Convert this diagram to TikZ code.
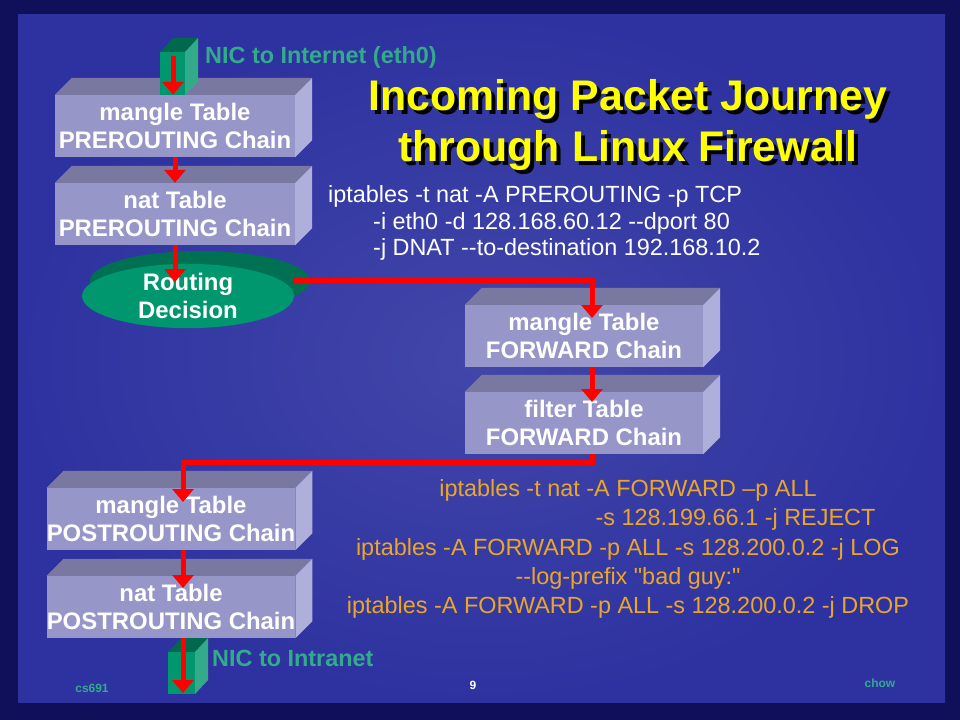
\documentclass[tikz,border=0pt]{standalone}
\usepackage{fontspec}
\setmainfont{Liberation Sans}
\newfontfamily\plainsans{Liberation Sans}
\usetikzlibrary{shapes.geometric,arrows.meta}
\definecolor{bgblue}{RGB}{45,50,160}
\definecolor{bgdark}{RGB}{15,15,90}
\definecolor{boxfront}{RGB}{150,150,200}
\definecolor{boxtop}{RGB}{120,120,160}
\definecolor{boxside}{RGB}{175,175,220}
\definecolor{nicgreen}{RGB}{0,150,110}
\definecolor{cmdorange}{RGB}{235,165,40}
\definecolor{titleyellow}{RGB}{255,255,0}
\tikzset{
  chainbox/.style={fill=boxfront, minimum height=62bp, text=white, font=\bfseries\fontsize{24}{28}\selectfont, align=center, inner sep=0pt},
  flow/.style={draw=red, line width=5bp, -{Triangle[length=13bp,width=21bp]}},
  cmd/.style={text=white, font=\plainsans\fontsize{23.5}{27}\selectfont, align=left, anchor=north west, inner sep=0pt},
}
\newcommand{\boxdepth}[1]{%
  \fill[boxtop] (#1.north west) -- ++(17bp,17bp) -| ([xshift=17bp,yshift=17bp]#1.north east) -- (#1.north east) -- cycle;
  \fill[boxside] (#1.north east) -- ++(17bp,17bp) -- ([xshift=17bp,yshift=17bp]#1.south east) -- (#1.south east) -- cycle;}
\begin{document}
\begin{tikzpicture}[x=1bp,y=1bp]
\useasboundingbox (0,0) rectangle (960,-720);
\fill[bgdark] (0,0) rectangle (960,-720);
\shade[inner color=bgblue!90!white, outer color=bgblue] (18,-15) rectangle (945,-702);

% title
\node[text=black, font=\bfseries\fontsize{43}{51}\selectfont, align=center] at (632,-129) {Incoming Packet Journey\\through Linux Firewall};
\node[text=titleyellow, font=\bfseries\fontsize{43}{51}\selectfont, align=center] (title) at (628,-125) {Incoming Packet Journey\\through Linux Firewall};

% chain boxes
\node[chainbox, minimum width=240bp] (manglepre) at (175,-126) {mangle Table\\PREROUTING Chain};
\node[chainbox, minimum width=240bp] (natpre) at (175,-214) {nat Table\\PREROUTING Chain};
\node[chainbox, minimum width=238bp] (manglefwd) at (584,-336) {mangle Table\\FORWARD Chain};
\node[chainbox, minimum width=238bp] (filterfwd) at (584,-423) {filter Table\\FORWARD Chain};
\node[chainbox, minimum width=248bp] (manglepost) at (171,-519) {mangle Table\\POSTROUTING Chain};
\node[chainbox, minimum width=248bp] (natpost) at (171,-607) {nat Table\\POSTROUTING Chain};
\foreach \b in {manglepre,natpre,manglefwd,filterfwd,manglepost,natpost} {\boxdepth{\b}}

% NICs
\fill[nicgreen!70!black] (160,-52) -- (173,-38) -- (198,-38) -- (185,-52) -- cycle;
\fill[nicgreen!80!white] (185,-52) -- (198,-38) -- (198,-82) -- (185,-95) -- cycle;
\node[fill=nicgreen, minimum width=25bp, minimum height=43bp, inner sep=0pt, anchor=north west] (nicin) at (160,-52) {};
\fill[nicgreen!70!black] (168,-652) -- (181,-638) -- (208,-638) -- (195,-652) -- cycle;
\fill[nicgreen!80!white] (195,-652) -- (208,-638) -- (208,-680) -- (195,-694) -- cycle;
\node[fill=nicgreen, minimum width=27bp, minimum height=42bp, inner sep=0pt, anchor=north west] (nicout) at (168,-652) {};
\node[text=nicgreen!80!white, font=\bfseries\fontsize{23.5}{26}\selectfont, anchor=west, inner sep=0pt] (nicinlabel) at (205,-57) {NIC to Internet (eth0)};
\node[text=nicgreen!80!white, font=\bfseries\fontsize{23.5}{26}\selectfont, anchor=west, inner sep=0pt] (nicoutlabel) at (212,-658) {NIC to Intranet};

% routing decision
\fill[nicgreen!75!black] (200,-281) ellipse (110bp and 30bp);
\node[ellipse, fill=nicgreen, minimum width=212bp, minimum height=58bp, text=white, font=\bfseries\fontsize{24}{28}\selectfont, align=center, inner sep=0pt] (routing) at (188,-296) {Routing\\Decision};

% flow
\draw[flow] (173,-56) -- (manglepre.north -| 173,0);
\draw[flow] (manglepre.south) -- (natpre.north);
\draw[flow] (natpre.south) -- (175,-282);
\draw[flow] (routing.east |- 0,-280) -- (592,-280) -- (592,-318);
\draw[flow] (manglefwd.south -| 592,0) -- (592,-402);
\draw[flow] (filterfwd.south -| 592,0) -- (592,-462) -- (183,-462) -- (183,-502);
\draw[flow] (manglepost.south -| 183,0) -- (183,-588);
\draw[flow] (natpost.south -| 183,0) -- (183,-693);

% commands
\node[cmd] (natrule) at (328,-185) {iptables -t nat -A PREROUTING -p TCP\\\hspace*{45bp}-i eth0 -d 128.168.60.12 --dport 80\\\hspace*{45bp}-j DNAT --to-destination 192.168.10.2};
\node[text=cmdorange, font=\plainsans\fontsize{23.5}{29.2}\selectfont, align=center, inner sep=0pt] (fwdrules) at (628,-549) {iptables -t nat -A FORWARD –p ALL\\\hspace*{215bp}-s 128.199.66.1 -j REJECT\\iptables -A FORWARD -p ALL -s 128.200.0.2 -j LOG\\--log-prefix "bad guy:"\\iptables -A FORWARD -p ALL -s 128.200.0.2 -j DROP};

% footer
\node[text=nicgreen!80!white, font=\bfseries\fontsize{12}{14}\selectfont] (cs) at (92,-688) {cs691};
\node[text=white, font=\bfseries\fontsize{12}{14}\selectfont] (page) at (473,-685) {9};
\node[text=nicgreen!80!white, font=\bfseries\fontsize{12}{14}\selectfont] (author) at (880,-683) {chow};
\end{tikzpicture}
\end{document}
